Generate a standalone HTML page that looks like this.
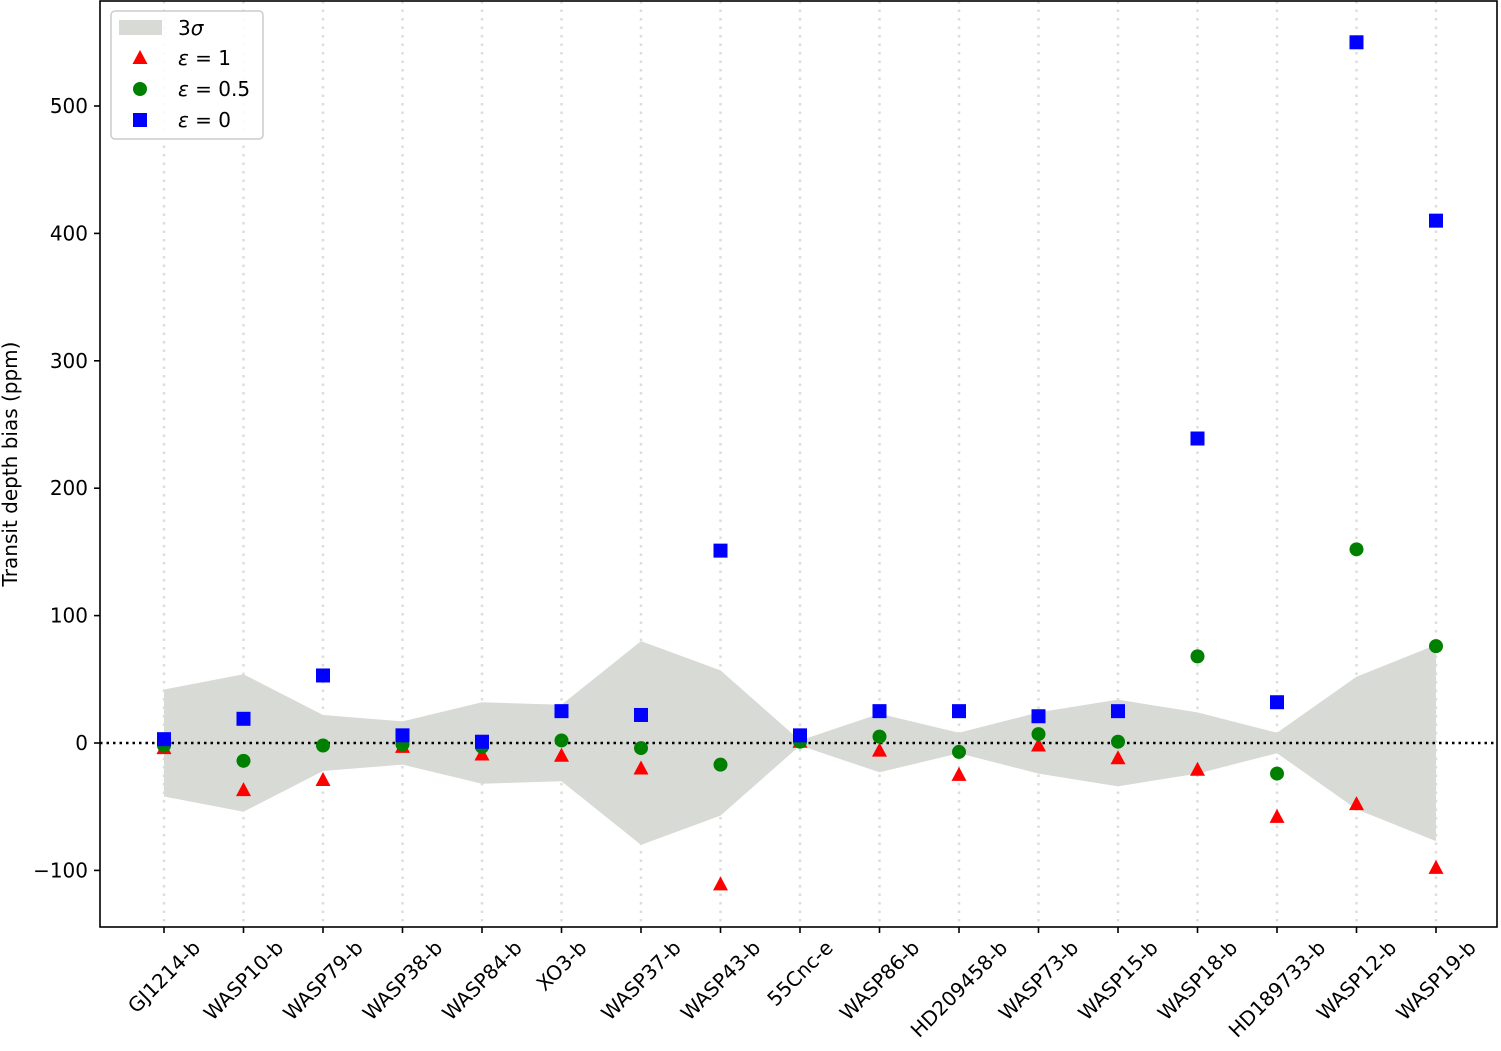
<!DOCTYPE html>
<html><head><meta charset="utf-8"><style>
html,body{margin:0;padding:0;background:#fff;}
svg text{font-family:"DejaVu Sans","Liberation Sans",sans-serif;}
</style></head><body>
<svg id="chart" width="1501" height="1046" xmlns="http://www.w3.org/2000/svg"></svg>
<script>
const categories=["GJ1214-b","WASP10-b","WASP79-b","WASP38-b","WASP84-b","XO3-b","WASP37-b","WASP43-b","55Cnc-e","WASP86-b","HD209458-b","WASP73-b","WASP15-b","WASP18-b","HD189733-b","WASP12-b","WASP19-b"];
const sigma3=[42,54,22,17,32,30,80,57,2,23,8,24,34,24,8,52,77];
const eps1=[-4,-37,-29,-3,-9,-10,-20,-111,1,-6,-25,-2,-12,-21,-58,-48,-98];
const eps05=[-2,-14,-2,-1,-3,2,-4,-17,1,5,-7,7,1,68,-24,152,76];
const eps0=[3,19,53,6,1,25,22,151,6,25,25,21,25,239,32,550,410];
const yTicks=[-100,0,100,200,300,400,500];

const NS="http://www.w3.org/2000/svg";
const svg=document.getElementById('chart');
const L=100,R=1497,T=1,B=927;
const x=i=>164+i*(1436-164)/(categories.length-1);
const y=v=>743-v*1.274;
function mk(tag,attrs,parent){const e=document.createElementNS(NS,tag);for(const k in attrs)e.setAttribute(k,attrs[k]);(parent||svg).appendChild(e);return e;}

categories.forEach((c,i)=>{const g=mk('line',{x1:x(i),x2:x(i),y1:T,y2:B,stroke:'#ddd','stroke-width':2.5,'stroke-dasharray':'2.5,6'});

});
let pts=categories.map((c,i)=>x(i)+','+y(sigma3[i]));
for(let i=categories.length-1;i>=0;i--)pts.push(x(i)+','+y(-sigma3[i]));
const band=mk('polygon',{points:pts.join(' '),fill:'#d8dad5'});


const zl=mk('line',{x1:L,x2:R,y1:y(0),y2:y(0),stroke:'#000','stroke-width':2.5,'stroke-dasharray':'2.5,4'});


eps1.forEach((v,i)=>{const cx=x(i),cy=y(v);const m=mk('polygon',{points:`${cx},${cy-8} ${cx-7.5},${cy+6} ${cx+7.5},${cy+6}`,fill:'#ff0000'});

});
eps05.forEach((v,i)=>{const m=mk('circle',{cx:x(i),cy:y(v),r:7,fill:'#008000'});

});
eps0.forEach((v,i)=>{const m=mk('rect',{x:x(i)-7,y:y(v)-7,width:14,height:14,fill:'#0000ff'});

});
const fr=mk('rect',{x:L,y:T,width:R-L,height:B-T,fill:'none',stroke:'#000','stroke-width':1.6});


yTicks.forEach(v=>{mk('line',{x1:L-6,x2:L,y1:y(v),y2:y(v),stroke:'#000','stroke-width':1.6});
const t=mk('text',{x:L-12,y:y(v)+7,'text-anchor':'end','font-size':20});t.textContent=(v<0?'\u2212'+(-v):v);

});
categories.forEach((c,i)=>{mk('line',{x1:x(i),x2:x(i),y1:B,y2:B+6,stroke:'#000','stroke-width':1.6});
const t=mk('text',{x:x(i),y:B,'text-anchor':'middle','dominant-baseline':'central','font-size':20});t.textContent=c;


const w=t.getComputedTextLength();
const cy=B+10+(w+20)*0.7071/2;
t.setAttribute('y',cy);
t.setAttribute('transform',`rotate(-45 ${x(i)} ${cy})`);});
const yt=mk('text',{x:17,y:464,'text-anchor':'middle','font-size':20,transform:'rotate(-90 17 464)'});yt.textContent='Transit depth bias (ppm)';


const lg=mk('g',{});


mk('rect',{x:111,y:11,width:152,height:128,rx:4,fill:'#fff','fill-opacity':0.85,stroke:'#ccc','stroke-width':1.5},lg);
mk('rect',{x:119,y:20,width:43,height:15,fill:'#d8dad5'},lg);
mk('polygon',{points:'140,50 132.5,64 147.5,64',fill:'#ff0000'},lg);
mk('circle',{cx:140,cy:89,r:7,fill:'#008000'},lg);
mk('rect',{x:133,y:113,width:14,height:14,fill:'#0000ff'},lg);
[['3σ',35],['ε = 1',65],['ε = 0.5',96],['ε = 0',127]].forEach(([s,yy],k)=>{const t=mk('text',{x:178,y:yy,'font-size':20},lg);t.innerHTML=k==0?'3<tspan font-style="italic">σ</tspan>':'<tspan font-style="italic">ε</tspan>'+s.slice(1);

});
</script>
</body></html>
